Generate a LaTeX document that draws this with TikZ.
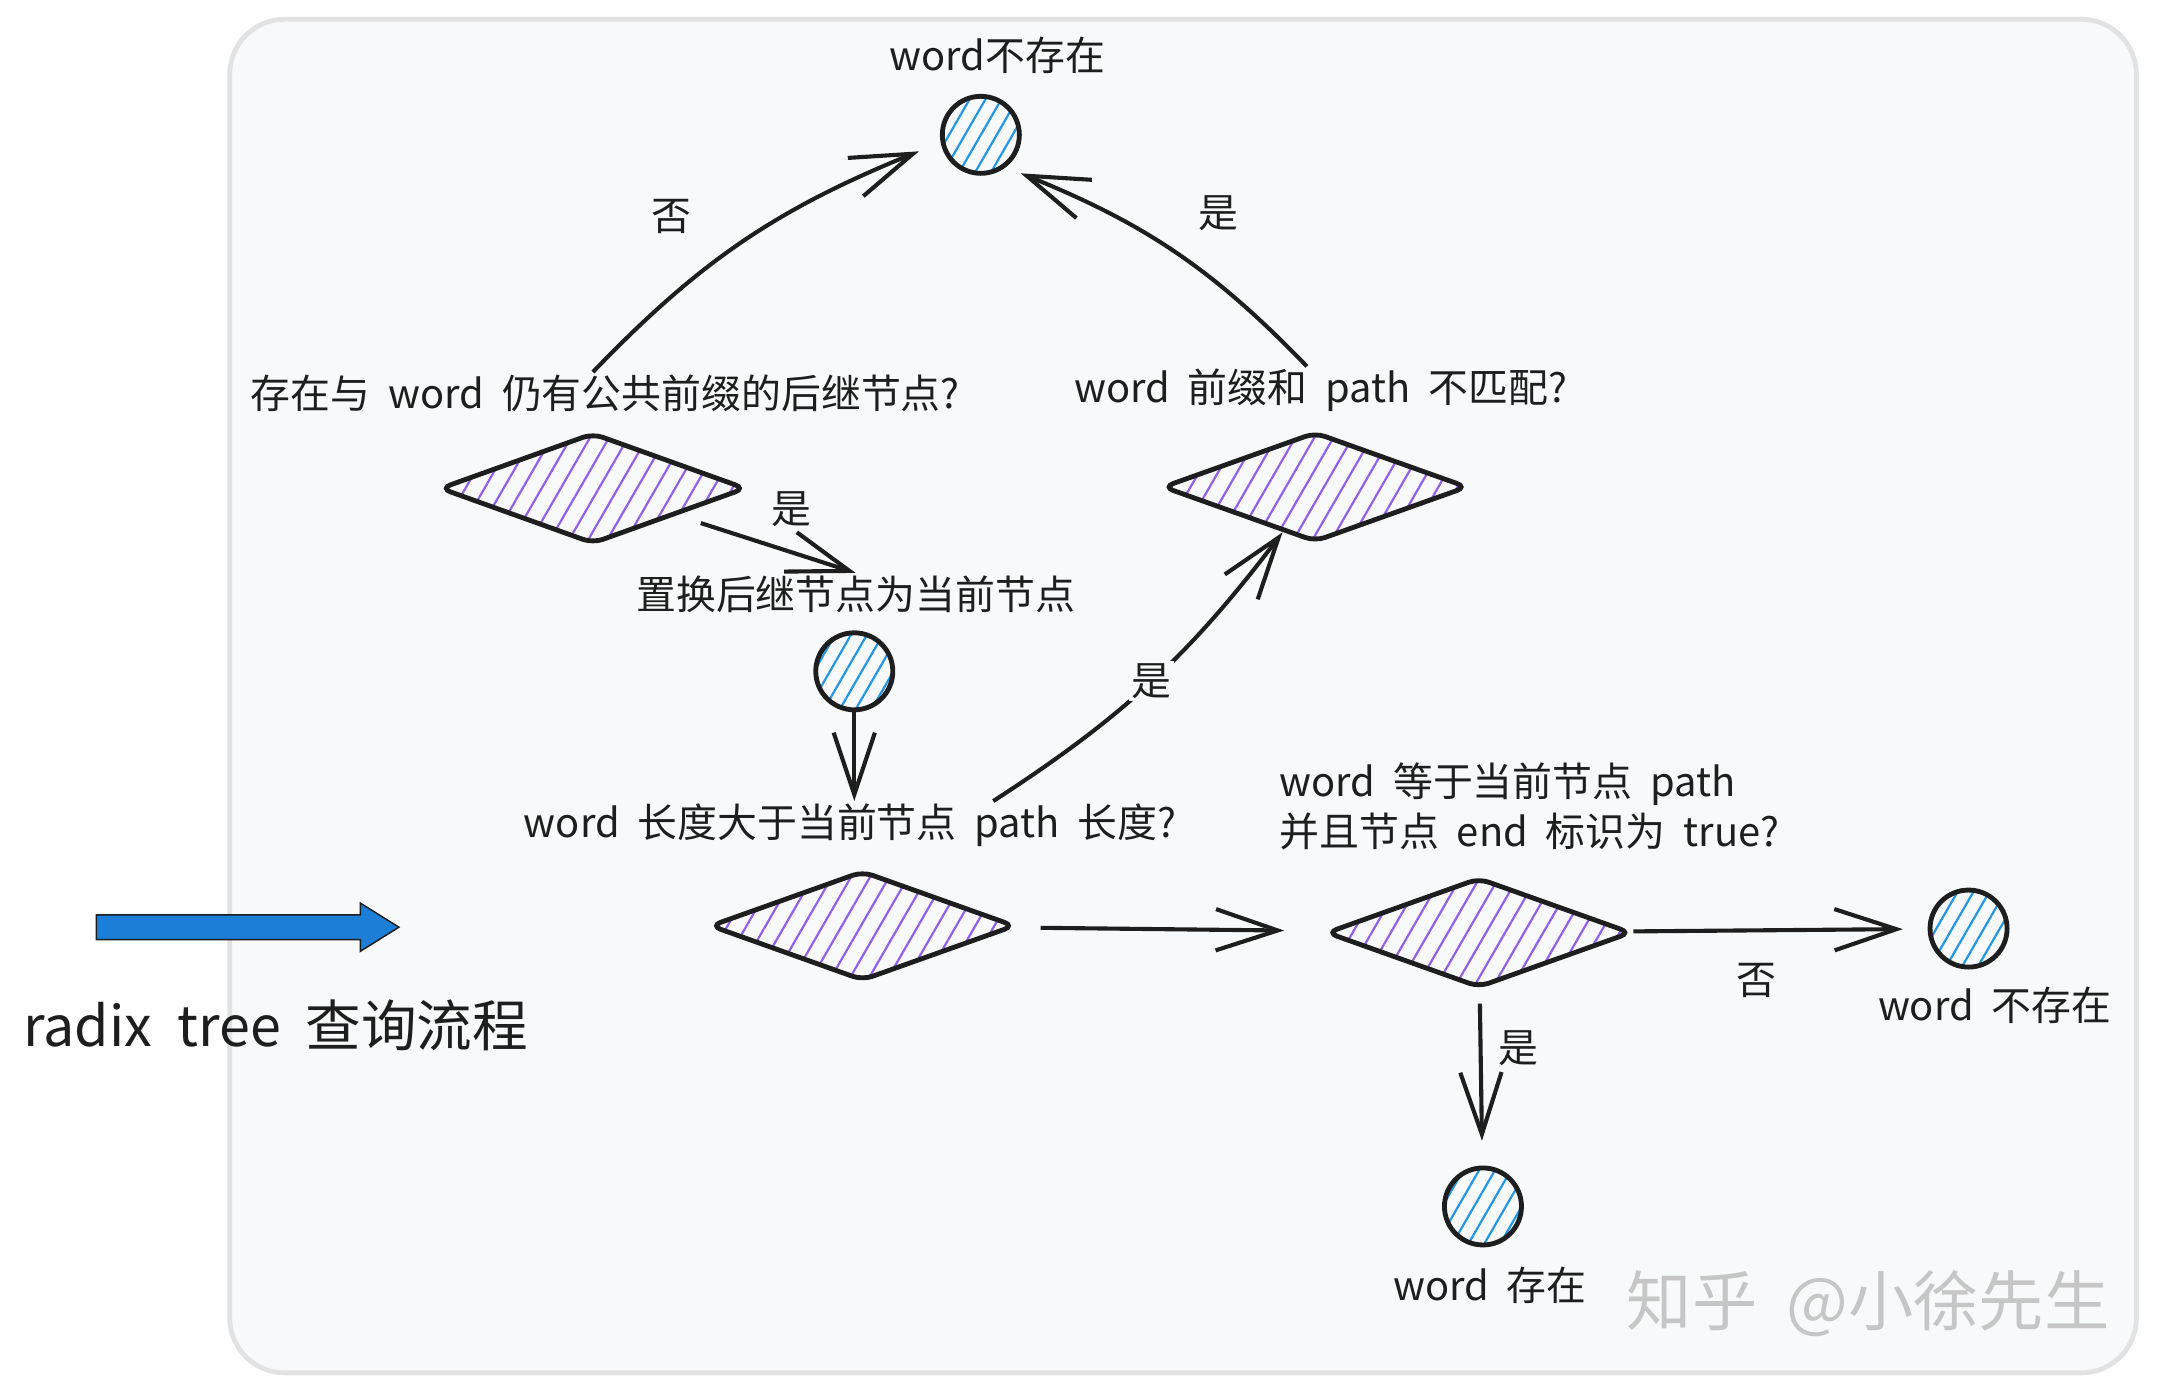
\documentclass[tikz,border=0pt]{standalone}
\usepackage{fontspec}
\setmainfont{Noto Sans CJK SC}[WordSpace=2]
\usepackage{tikz}
\usetikzlibrary{shapes.geometric}
\usetikzlibrary{arrows.meta}
\usetikzlibrary{patterns.meta}
\usetikzlibrary{positioning}

\definecolor{canvas}{RGB}{248,249,250}
\definecolor{frame}{RGB}{226,226,226}
\definecolor{ink}{RGB}{30,30,30}
\definecolor{hatchviolet}{RGB}{145,95,235}
\definecolor{hatchblue}{RGB}{34,150,230}
\definecolor{titleblue}{RGB}{28,126,214}

\begin{document}
\begin{tikzpicture}[
        decision/.style={diamond, draw=ink, line width=2pt, rounded corners=0.15cm,
            minimum width=4.44cm, minimum height=1.6cm, inner sep=0pt,
            pattern={Lines[angle=60,distance=0.24cm,line width=0.9pt]}, pattern color=hatchviolet},
        endpoint/.style={circle, draw=ink, line width=2pt, minimum size=1.12cm, inner sep=0pt,
            pattern={Lines[angle=60,distance=0.2cm,line width=0.9pt]}, pattern color=hatchblue},
        arrowline/.style={draw=ink, line width=1.7pt, -{Straight Barb[length=0.9cm,width=0.6cm]}},
        lbl/.style={font=\fontsize{16.5}{20.5}\selectfont, text=ink, inner sep=1pt},
        yesno/.style={lbl, fill=canvas}
    ]
        \useasboundingbox (0,0) rectangle (31.36,-20.26);
        \fill[canvas, draw=frame, line width=2pt, rounded corners=0.8cm] (3.34,-0.28) rectangle (31.06,-19.96);

        \filldraw[fill=titleblue, draw=ink, line width=0.6pt] (1.4,-13.3) -- (5.24,-13.3) -- (5.24,-13.13)
            -- (5.8,-13.48) -- (5.24,-13.83) -- (5.24,-13.66) -- (1.4,-13.66) -- cycle;
        \node[lbl, font=\fontsize{23}{28}\selectfont, anchor=west] (title) at (0.3,-14.9) {radix tree 查询流程};

        \node[endpoint] (c_miss_top) at (14.26,-1.96) {};
        \node[lbl] (l_miss_top) at (14.5,-0.8) {word不存在};
        \node[decision] (d_common) at (8.62,-7.1) {};
        \node[lbl] (l_common) at (8.8,-5.72) {存在与 word 仍有公共前缀的后继节点?};
        \node[decision] (d_prefix) at (19.12,-7.08) {};
        \node[lbl] (l_prefix) at (19.2,-5.68) {word 前缀和 path 不匹配?};
        \node[endpoint] (c_next) at (12.42,-9.76) {};
        \node[lbl] (l_next) at (12.44,-8.64) {置换后继节点为当前节点};
        \node[decision] (d_longer) at (12.54,-13.46) {};
        \node[lbl] (l_longer) at (12.36,-12.0) {word 长度大于当前节点 path 长度?};
        \node[decision] (d_equal) at (21.5,-13.56) {};
        \node[lbl, align=left, anchor=west] (l_equal) at (18.56,-11.72) {word 等于当前节点 path\\并且节点 end 标识为 true?};
        \node[endpoint] (c_miss) at (28.62,-13.5) {};
        \node[lbl] (l_miss) at (29.0,-14.62) {word 不存在};
        \node[endpoint] (c_found) at (21.56,-17.54) {};
        \node[lbl] (l_found) at (21.66,-18.68) {word 存在};

        \draw[arrowline] (l_common.north -| d_common) to[bend left=12] ([shift={(-0.9,-0.24)}]c_miss_top);
        \node[lbl] (n_common) at (9.76,-3.14) {否};
        \draw[arrowline] ([xshift=-0.2cm]l_prefix.north) to[bend right=12] ([shift={(0.58,-0.56)}]c_miss_top);
        \node[lbl] (y_prefix) at (17.72,-3.1) {是};
        \draw[arrowline, shorten <=0.4cm] (d_common) -- (l_next.north);
        \node[lbl] (y_common) at (11.5,-7.4) {是};
        \draw[arrowline] (c_next) -- (c_next |- l_longer.north);
        \draw[arrowline] ([xshift=2.08cm]l_longer.north) to[bend right=10] node[yesno] (y_longer) {是} (d_prefix);
        \draw[arrowline, shorten <=0.4cm, shorten >=0.64cm] (d_longer) -- (d_equal);
        \draw[arrowline, shorten <=0.04cm, shorten >=0.36cm] (d_equal) -- (c_miss);
        \node[lbl] (n_equal) at (25.54,-14.26) {否};
        \draw[arrowline, shorten <=0.2cm, shorten >=0.36cm] (d_equal) -- (c_found);
        \node[lbl] (y_equal) at (22.08,-15.24) {是};

        \node[font=\fontsize{27}{32}\selectfont, text=gray!45] (mark) at (27.16,-18.96) {知乎 @小徐先生};
    \end{tikzpicture}
\end{document}
